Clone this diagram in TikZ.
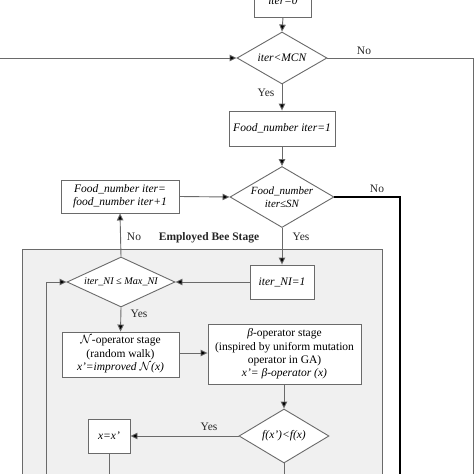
\documentclass[tikz,border=0pt]{standalone}
\usepackage{fontspec}
\setmainfont{Liberation Serif}
\usetikzlibrary{shapes.geometric,arrows.meta}
\definecolor{ln}{HTML}{6A6A6A}
\definecolor{panel}{HTML}{F0F0F0}
\tikzset{
  box/.style={draw=ln, line width=0.9pt, fill=white, inner sep=1pt, align=center, font=\fontsize{11.5}{13.4}\selectfont},
  dia/.style={draw=ln, line width=0.9pt, fill=white, diamond, inner sep=0pt},
  dtext/.style={align=center, font=\fontsize{11.5}{13.4}\selectfont\itshape},
  conn/.style={draw=ln, line width=0.9pt},
  arr/.style={conn, -{Triangle[length=7pt,width=6.5pt,fill=black]}},
  lbl/.style={font=\fontsize{11.5}{13.4}\selectfont, text=black!85},
}
\begin{document}
\begin{tikzpicture}[x=1pt,y=-1pt]
\useasboundingbox (0,0) rectangle (474,474);
\clip (0,0) rectangle (474,474);
% panel
\node[draw=ln, line width=0.9pt, fill=panel, minimum width=360pt, minimum height=240pt, anchor=north west, inner sep=0] (panel) at (22,249) {};
% nodes
\node[box, minimum width=57pt, minimum height=32pt] (b0) at (283,1) {\itshape iter=0};
\node[dia, minimum width=90pt, minimum height=52pt] (d1) at (282,58) {};
\node[dtext] (t1) at (d1.center) {iter<MCN};
\node[box, minimum width=106pt, minimum height=35pt] (b1) at (282,128.5) {\itshape Food\_number iter=1};
\node[dia, minimum width=104pt, minimum height=61pt] (d2) at (282,197) {};
\node[dtext, font=\fontsize{11}{13.4}\selectfont\itshape] (t2) at (d2.center) {Food\_number\\iter≤SN};
\node[box, minimum width=118pt, minimum height=33pt] (b2) at (120,196.5) {\itshape Food\_number iter=\\\itshape food\_number iter+1};
\node[box, minimum width=64pt, minimum height=34pt] (b3) at (282,282) {\itshape iter\_NI=1};
\node[dia, minimum width=108pt, minimum height=50pt] (d3) at (121,282) {};
\node[dtext, font=\fontsize{10.2}{12}\selectfont\itshape] (t3) at (d3.center) {iter\_NI ≤ Max\_NI};
\node[box, minimum width=117pt, minimum height=45pt] (b4) at (120.5,354.5) {$\mathcal{N}$-operator stage\\(random walk)\\\itshape x'=improved $\mathcal{N}$(x)};
\node[box, minimum width=153pt, minimum height=60pt] (b5) at (284.5,354) {\itshape β\upshape-operator stage\\(inspired by uniform mutation\\operator in GA)\\\itshape x'= β-operator (x)};
\node[dia, minimum width=90pt, minimum height=54pt] (d4) at (284,436) {};
\node[dtext] (t4) at (d4.center) {f(x')<f(x)};
\node[box, minimum width=42pt, minimum height=34pt] (b6) at (109,436) {\itshape x=x'};
% free ends
\coordinate (inl) at (0,58);
\coordinate (rt1) at (473,58);
\coordinate (rt1b) at (473,480);
\coordinate (rt2) at (400,197);
\coordinate (rt2b) at (400,480);
\coordinate (lp) at (46,480);
\coordinate (lpt) at (46,282);
\coordinate (xb) at (109,480);
\coordinate (db) at (284,480);
% connectors
\draw[arr] (b0.south) -- (d1.north);
\draw[arr] (inl) -- (d1.west);
\draw[conn] (d1.east) -- (rt1) -- (rt1b);
\draw[arr] (d1.south) -- (b1.north);
\draw[arr] (b1.south) -- (d2.north);
\draw[arr] (b2.east) -- (d2.west);
\draw[draw=black, line width=1.6pt] (d2.east) -- (rt2) -- (rt2b);
\draw[arr] (d2.south) -- (b3.north);
\draw[arr] (b3.west) -- (d3.east);
\draw[arr] (d3.north) -- (b2.south);
\draw[arr] (d3.south) -- (b4.north);
\draw[arr] (b4.east |- 0,353) -- (b5.west |- 0,353);
\draw[arr] (b5.south -| d4.north) -- (d4.north);
\draw[arr] (d4.west) -- (b6.east);
\draw[conn] (b6.south) -- (xb);
\draw[conn] (d4.south) -- (db);
\draw[arr] (lp) -- (lpt) -- (d3.west);
% labels
\node[lbl] (l1) at (364,51) {No};
\node[lbl] (l2) at (266,93) {Yes};
\node[lbl] (l3) at (377,189) {No};
\node[lbl] (l4) at (134,237) {No};
\node[lbl, font=\fontsize{11.5}{13.4}\selectfont\bfseries] (l5) at (209,238) {Employed Bee Stage};
\node[lbl] (l6) at (301,237) {Yes};
\node[lbl] (l7) at (139,314) {Yes};
\node[lbl] (l8) at (209,427) {Yes};
\end{tikzpicture}
\end{document}
